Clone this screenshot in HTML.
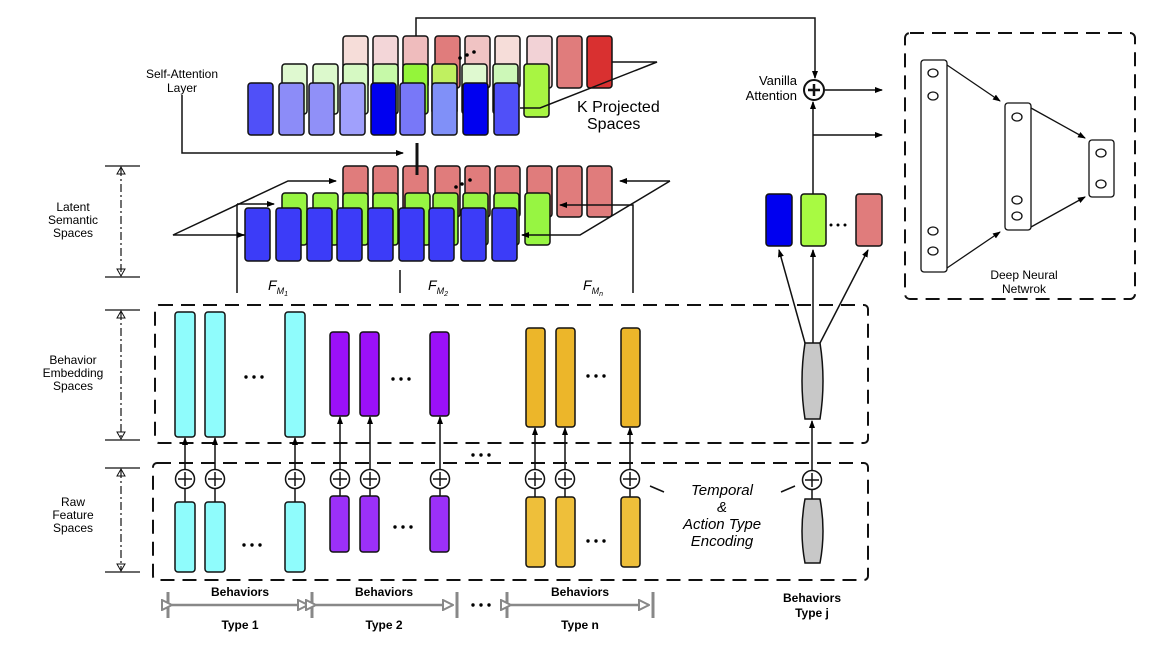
<!DOCTYPE html>
<html><head><meta charset="utf-8"><style>html,body{margin:0;padding:0;background:#fff}svg{display:block}text{font-family:"Liberation Sans",sans-serif}</style></head><body>
<svg width="1153" height="658" viewBox="0 0 1153 658" xmlns="http://www.w3.org/2000/svg">
<defs>
<marker id="a" markerWidth="8" markerHeight="8" refX="7" refY="4" orient="auto" markerUnits="userSpaceOnUse"><path d="M0,1 L8,4 L0,7 Z" fill="#000"/></marker>
<marker id="g" markerWidth="12" markerHeight="12" refX="11" refY="6" orient="auto" markerUnits="userSpaceOnUse"><path d="M1,1 L11,6 L1,11 Z" fill="#fff" stroke="#888" stroke-width="2"/></marker>
</defs>
<g stroke="#111" stroke-width="1.5">
<polyline points="416,36 416,18 815,18 815,78" fill="none" marker-end="url(#a)"/>
<rect x="343" y="36" width="25" height="52" rx="3" fill="#f6ddd9"/>
<rect x="373" y="36" width="25" height="52" rx="3" fill="#f3d6d8"/>
<rect x="403" y="36" width="25" height="52" rx="3" fill="#efbcbd"/>
<rect x="435" y="36" width="25" height="52" rx="3" fill="#e07c7c"/>
<rect x="465" y="36" width="25" height="52" rx="3" fill="#f0c3c3"/>
<rect x="495" y="36" width="25" height="52" rx="3" fill="#f6ddd9"/>
<rect x="527" y="36" width="25" height="52" rx="3" fill="#f2d2d6"/>
<rect x="557" y="36" width="25" height="52" rx="3" fill="#e07c7c"/>
<rect x="587" y="36" width="25" height="52" rx="3" fill="#d93030"/>
<rect x="282" y="64" width="25" height="50" rx="3" fill="#dff9d0"/>
<rect x="313" y="64" width="25" height="50" rx="3" fill="#dcf9cc"/>
<rect x="343" y="64" width="25" height="50" rx="3" fill="#d6f9c3"/>
<rect x="373" y="64" width="25" height="50" rx="3" fill="#c6f9a8"/>
<rect x="403" y="64" width="25" height="50" rx="3" fill="#94f53a"/>
<rect x="432" y="64" width="25" height="50" rx="3" fill="#c0f060"/>
<rect x="462" y="64" width="25" height="50" rx="3" fill="#dff9d0"/>
<rect x="493" y="64" width="25" height="50" rx="3" fill="#cdf8b8"/>
<rect x="524" y="64" width="25" height="53" rx="3" fill="#a8f542"/>
<polyline points="612,62 657,62 540,108 520,108" fill="none"/>
<rect x="248" y="83" width="25" height="52" rx="3" fill="#5050f8"/>
<rect x="279" y="83" width="25" height="52" rx="3" fill="#8c8cf8"/>
<rect x="309" y="83" width="25" height="52" rx="3" fill="#9090f8"/>
<rect x="340" y="83" width="25" height="52" rx="3" fill="#a0a0fc"/>
<rect x="371" y="83" width="25" height="52" rx="3" fill="#0000f0"/>
<rect x="400" y="83" width="25" height="52" rx="3" fill="#7878f8"/>
<rect x="432" y="83" width="25" height="52" rx="3" fill="#8090f8"/>
<rect x="463" y="83" width="25" height="52" rx="3" fill="#0000f0"/>
<rect x="494" y="83" width="25" height="52" rx="3" fill="#5050f8"/>
<polyline points="182,95 182,153 403,153" fill="none" marker-end="url(#a)"/>
<line x1="417" y1="143" x2="417" y2="175" stroke-width="3"/>
<rect x="343" y="166" width="25" height="51" rx="3" fill="#e07c7c"/>
<rect x="373" y="166" width="25" height="51" rx="3" fill="#e07c7c"/>
<rect x="403" y="166" width="25" height="51" rx="3" fill="#e07c7c"/>
<rect x="435" y="166" width="25" height="51" rx="3" fill="#e07c7c"/>
<rect x="465" y="166" width="25" height="51" rx="3" fill="#e07c7c"/>
<rect x="495" y="166" width="25" height="51" rx="3" fill="#e07c7c"/>
<rect x="527" y="166" width="25" height="51" rx="3" fill="#e07c7c"/>
<rect x="557" y="166" width="25" height="51" rx="3" fill="#e07c7c"/>
<rect x="587" y="166" width="25" height="51" rx="3" fill="#e07c7c"/>
<line x1="417" y1="166" x2="417" y2="175" stroke-width="3"/>
<rect x="282" y="193" width="25" height="52" rx="3" fill="#97f542"/>
<rect x="313" y="193" width="25" height="52" rx="3" fill="#97f542"/>
<rect x="343" y="193" width="25" height="52" rx="3" fill="#97f542"/>
<rect x="373" y="193" width="25" height="52" rx="3" fill="#97f542"/>
<rect x="405" y="193" width="25" height="52" rx="3" fill="#97f542"/>
<rect x="433" y="193" width="25" height="52" rx="3" fill="#97f542"/>
<rect x="463" y="193" width="25" height="52" rx="3" fill="#97f542"/>
<rect x="494" y="193" width="25" height="52" rx="3" fill="#97f542"/>
<rect x="525" y="193" width="25" height="52" rx="3" fill="#97f542"/>
<rect x="245" y="208" width="25" height="53" rx="3" fill="#3c3cf8"/>
<rect x="276" y="208" width="25" height="53" rx="3" fill="#3c3cf8"/>
<rect x="307" y="208" width="25" height="53" rx="3" fill="#3c3cf8"/>
<rect x="337" y="208" width="25" height="53" rx="3" fill="#3c3cf8"/>
<rect x="368" y="208" width="25" height="53" rx="3" fill="#3c3cf8"/>
<rect x="399" y="208" width="25" height="53" rx="3" fill="#3c3cf8"/>
<rect x="429" y="208" width="25" height="53" rx="3" fill="#3c3cf8"/>
<rect x="461" y="208" width="25" height="53" rx="3" fill="#3c3cf8"/>
<rect x="492" y="208" width="25" height="53" rx="3" fill="#3c3cf8"/>
<polyline points="245,235 173,235 288,181 336,181" fill="none" marker-end="url(#a)"/>
<line x1="237" y1="204" x2="274" y2="204" marker-end="url(#a)"/>
<line x1="237" y1="204" x2="237" y2="293"/>
<line x1="237" y1="235" x2="244" y2="235" marker-end="url(#a)"/>
<line x1="670" y1="181" x2="620" y2="181" marker-end="url(#a)"/>
<polyline points="670,181 580,235 522,235" fill="none" marker-end="url(#a)"/>
<polyline points="633,293 633,205 560,205" fill="none" marker-end="url(#a)"/>
<line x1="400" y1="270" x2="400" y2="293"/>
</g>
<g fill="#000">
<circle cx="460" cy="58" r="1.8"/><circle cx="467" cy="55" r="1.8"/><circle cx="474" cy="52" r="1.8"/>
<circle cx="456" cy="187" r="1.8"/><circle cx="462" cy="184" r="1.8"/><circle cx="470" cy="180" r="1.8"/>
</g>
<g font-style="italic" font-size="14">
<text x="268" y="290">F<tspan font-size="9" dy="4">M</tspan><tspan font-size="7" dy="2">1</tspan></text>
<text x="428" y="290">F<tspan font-size="9" dy="4">M</tspan><tspan font-size="7" dy="2">2</tspan></text>
<text x="583" y="290">F<tspan font-size="9" dy="4">M</tspan><tspan font-size="7" dy="2">n</tspan></text>
</g>
<text x="577" y="112" font-size="16">K Projected</text>
<text x="587" y="129" font-size="16">Spaces</text>
<text x="182" y="78" font-size="12" text-anchor="middle">Self-Attention</text>
<text x="182" y="92" font-size="12" text-anchor="middle">Layer</text>
<g stroke="#111" stroke-width="1.2">
<line x1="105" y1="166" x2="140" y2="166"/><line x1="105" y1="277" x2="140" y2="277"/>
<line x1="121" y1="168" x2="121" y2="275" stroke-dasharray="8 3 2 3"/>
<line x1="105" y1="310" x2="140" y2="310"/><line x1="105" y1="440" x2="140" y2="440"/>
<line x1="121" y1="312" x2="121" y2="438" stroke-dasharray="8 3 2 3"/>
<line x1="105" y1="468" x2="140" y2="468"/><line x1="105" y1="572" x2="140" y2="572"/>
<line x1="121" y1="470" x2="121" y2="570" stroke-dasharray="8 3 2 3"/>
</g>
<g fill="none" stroke="#111" stroke-width="1">
<path d="M117,174 L121,167 L125,174Z M117,269 L121,276 L125,269Z M117,318 L121,311 L125,318Z M117,432 L121,439 L125,432Z M117,476 L121,469 L125,476Z M117,564 L121,571 L125,564Z"/>
</g>
<g font-size="12" text-anchor="middle">
<text x="73" y="211">Latent</text><text x="73" y="224">Semantic</text><text x="73" y="237">Spaces</text>
<text x="73" y="364">Behavior</text><text x="73" y="377">Embedding</text><text x="73" y="390">Spaces</text>
<text x="73" y="506">Raw</text><text x="73" y="519">Feature</text><text x="73" y="532">Spaces</text>
</g>
<g fill="none" stroke="#111" stroke-width="2" stroke-dasharray="14 8">
<rect x="155" y="305" width="713" height="138" rx="4"/>
<rect x="153" y="463" width="715" height="117" rx="4"/>
<rect x="905" y="33" width="230" height="266" rx="5"/>
</g>
<g stroke="#111" stroke-width="1.5">
<g fill="#8ffcfc">
<rect x="175" y="312" width="20" height="125" rx="3"/><rect x="205" y="312" width="20" height="125" rx="3"/><rect x="285" y="312" width="20" height="125" rx="3"/>
<rect x="175" y="502" width="20" height="70" rx="3"/><rect x="205" y="502" width="20" height="70" rx="3"/><rect x="285" y="502" width="20" height="70" rx="3"/>
</g>
<g fill="#9b10f8">
<rect x="330" y="332" width="19" height="84" rx="3"/><rect x="360" y="332" width="19" height="84" rx="3"/><rect x="430" y="332" width="19" height="84" rx="3"/>
</g>
<g fill="#9b30f8">
<rect x="330" y="496" width="19" height="56" rx="3"/><rect x="360" y="496" width="19" height="56" rx="3"/><rect x="430" y="496" width="19" height="56" rx="3"/>
</g>
<g fill="#ecb62a">
<rect x="526" y="328" width="19" height="99" rx="3"/><rect x="556" y="328" width="19" height="99" rx="3"/><rect x="621" y="328" width="19" height="99" rx="3"/>
</g>
<g fill="#eebf3a">
<rect x="526" y="497" width="19" height="70" rx="3"/><rect x="556" y="497" width="19" height="70" rx="3"/><rect x="621" y="497" width="19" height="70" rx="3"/>
</g>
<g fill="#fff">
<line x1="185" y1="502" x2="185" y2="438" marker-end="url(#a)"/><circle cx="185" cy="479" r="9.5"/>
<line x1="215" y1="502" x2="215" y2="438" marker-end="url(#a)"/><circle cx="215" cy="479" r="9.5"/>
<line x1="295" y1="502" x2="295" y2="438" marker-end="url(#a)"/><circle cx="295" cy="479" r="9.5"/>
<line x1="340" y1="496" x2="340" y2="417" marker-end="url(#a)"/><circle cx="340" cy="479" r="9.5"/>
<line x1="370" y1="496" x2="370" y2="417" marker-end="url(#a)"/><circle cx="370" cy="479" r="9.5"/>
<line x1="440" y1="496" x2="440" y2="417" marker-end="url(#a)"/><circle cx="440" cy="479" r="9.5"/>
<line x1="535" y1="497" x2="535" y2="428" marker-end="url(#a)"/><circle cx="535" cy="479" r="9.5"/>
<line x1="565" y1="497" x2="565" y2="428" marker-end="url(#a)"/><circle cx="565" cy="479" r="9.5"/>
<line x1="630" y1="497" x2="630" y2="428" marker-end="url(#a)"/><circle cx="630" cy="479" r="9.5"/>
<line x1="812" y1="499" x2="812" y2="421" marker-end="url(#a)"/><circle cx="812" cy="480" r="9.5"/>
</g>
<path d="M178,479h14M185,472v14 M208,479h14M215,472v14 M288,479h14M295,472v14 M333,479h14M340,472v14 M363,479h14M370,472v14 M433,479h14M440,472v14 M528,479h14M535,472v14 M558,479h14M565,472v14 M623,479h14M630,472v14 M805,480h14M812,473v14"/>
<line x1="650" y1="486" x2="664" y2="492"/><line x1="781" y1="492" x2="795" y2="486"/>
</g>
<g fill="#000">
<circle cx="246" cy="377" r="1.7"/><circle cx="254" cy="377" r="1.7"/><circle cx="262" cy="377" r="1.7"/>
<circle cx="244" cy="545" r="1.7"/><circle cx="252" cy="545" r="1.7"/><circle cx="260" cy="545" r="1.7"/>
<circle cx="393" cy="379" r="1.7"/><circle cx="401" cy="379" r="1.7"/><circle cx="409" cy="379" r="1.7"/>
<circle cx="395" cy="527" r="1.7"/><circle cx="403" cy="527" r="1.7"/><circle cx="411" cy="527" r="1.7"/>
<circle cx="588" cy="376" r="1.7"/><circle cx="596" cy="376" r="1.7"/><circle cx="604" cy="376" r="1.7"/>
<circle cx="588" cy="541" r="1.7"/><circle cx="596" cy="541" r="1.7"/><circle cx="604" cy="541" r="1.7"/>
<circle cx="473" cy="455" r="1.7"/><circle cx="481" cy="455" r="1.7"/><circle cx="489" cy="455" r="1.7"/>
<circle cx="473" cy="605" r="1.7"/><circle cx="481" cy="605" r="1.7"/><circle cx="489" cy="605" r="1.7"/>
<circle cx="831" cy="225" r="1.5"/><circle cx="838" cy="225" r="1.5"/><circle cx="845" cy="225" r="1.5"/>
</g>
<g stroke="#888" stroke-width="3">
<line x1="168" y1="592" x2="168" y2="618"/><line x1="312" y1="592" x2="312" y2="618"/><line x1="457" y1="592" x2="457" y2="618"/>
<line x1="507" y1="592" x2="507" y2="618"/><line x1="653" y1="592" x2="653" y2="618"/>
</g>
<g stroke="#888" stroke-width="2.5">
<line x1="172" y1="605" x2="308" y2="605" marker-start="url(#g)" marker-end="url(#g)"/>
<line x1="316" y1="605" x2="453" y2="605" marker-start="url(#g)" marker-end="url(#g)"/>
<line x1="511" y1="605" x2="649" y2="605" marker-start="url(#g)" marker-end="url(#g)"/>
</g>
<g font-size="12" font-weight="bold" text-anchor="middle">
<text x="240" y="596">Behaviors</text><text x="240" y="629">Type 1</text>
<text x="384" y="596">Behaviors</text><text x="384" y="629">Type 2</text>
<text x="580" y="596">Behaviors</text><text x="580" y="629">Type n</text>
<text x="812" y="602">Behaviors</text><text x="812" y="617">Type j</text>
</g>
<g font-size="15" font-style="italic" text-anchor="middle">
<text x="722" y="495">Temporal</text><text x="722" y="512">&amp;</text><text x="722" y="529">Action Type</text><text x="722" y="546">Encoding</text>
</g>
<g stroke="#111" stroke-width="1.5">
<path d="M805,343 L820,343 Q826,381 820,419 L805,419 Q799,381 805,343 Z" fill="#c8c8c8"/>
<path d="M805,499 L820,499 Q826,531 820,563 L805,563 Q799,531 805,499 Z" fill="#c8c8c8"/>
<line x1="805" y1="343" x2="779" y2="250" marker-end="url(#a)"/>
<line x1="813" y1="343" x2="813" y2="250" marker-end="url(#a)"/>
<line x1="820" y1="343" x2="868" y2="250" marker-end="url(#a)"/>
<rect x="766" y="194" width="26" height="52" rx="3" fill="#0000f0"/>
<rect x="801" y="194" width="25" height="52" rx="3" fill="#a8fa42"/>
<rect x="856" y="194" width="26" height="52" rx="3" fill="#e07c7c"/>
<line x1="813" y1="194" x2="813" y2="102" marker-end="url(#a)"/>
<line x1="813" y1="135" x2="882" y2="135" marker-end="url(#a)"/>
<line x1="825" y1="90" x2="882" y2="90" marker-end="url(#a)"/>
<circle cx="814" cy="90" r="10" fill="#fff" stroke-width="2"/>
<path d="M808,90h12M814,84v12" stroke-width="2.5"/>
</g>
<text x="797" y="85" font-size="13" text-anchor="end">Vanilla</text>
<text x="797" y="100" font-size="13" text-anchor="end">Attention</text>
<g stroke="#111" stroke-width="1.3" fill="#fff">
<rect x="921" y="60" width="26" height="212" rx="3"/>
<rect x="1005" y="103" width="26" height="127" rx="3"/>
<rect x="1089" y="140" width="25" height="57" rx="3"/>
<ellipse cx="933" cy="73" rx="5" ry="4"/><ellipse cx="933" cy="96" rx="5" ry="4"/><ellipse cx="933" cy="231" rx="5" ry="4"/><ellipse cx="933" cy="251" rx="5" ry="4"/>
<ellipse cx="1017" cy="117" rx="5" ry="4"/><ellipse cx="1017" cy="200" rx="5" ry="4"/><ellipse cx="1017" cy="216" rx="5" ry="4"/>
<ellipse cx="1101" cy="153" rx="5" ry="4"/><ellipse cx="1101" cy="184" rx="5" ry="4"/>
<line x1="947" y1="65" x2="1000" y2="101" marker-end="url(#a)"/>
<line x1="947" y1="268" x2="1000" y2="232" marker-end="url(#a)"/>
<line x1="1031" y1="108" x2="1085" y2="138" marker-end="url(#a)"/>
<line x1="1031" y1="227" x2="1085" y2="197" marker-end="url(#a)"/>
</g>
<text x="1024" y="279" font-size="12" text-anchor="middle">Deep Neural</text>
<text x="1024" y="293" font-size="12" text-anchor="middle">Netwrok</text>
</svg>
</body></html>
